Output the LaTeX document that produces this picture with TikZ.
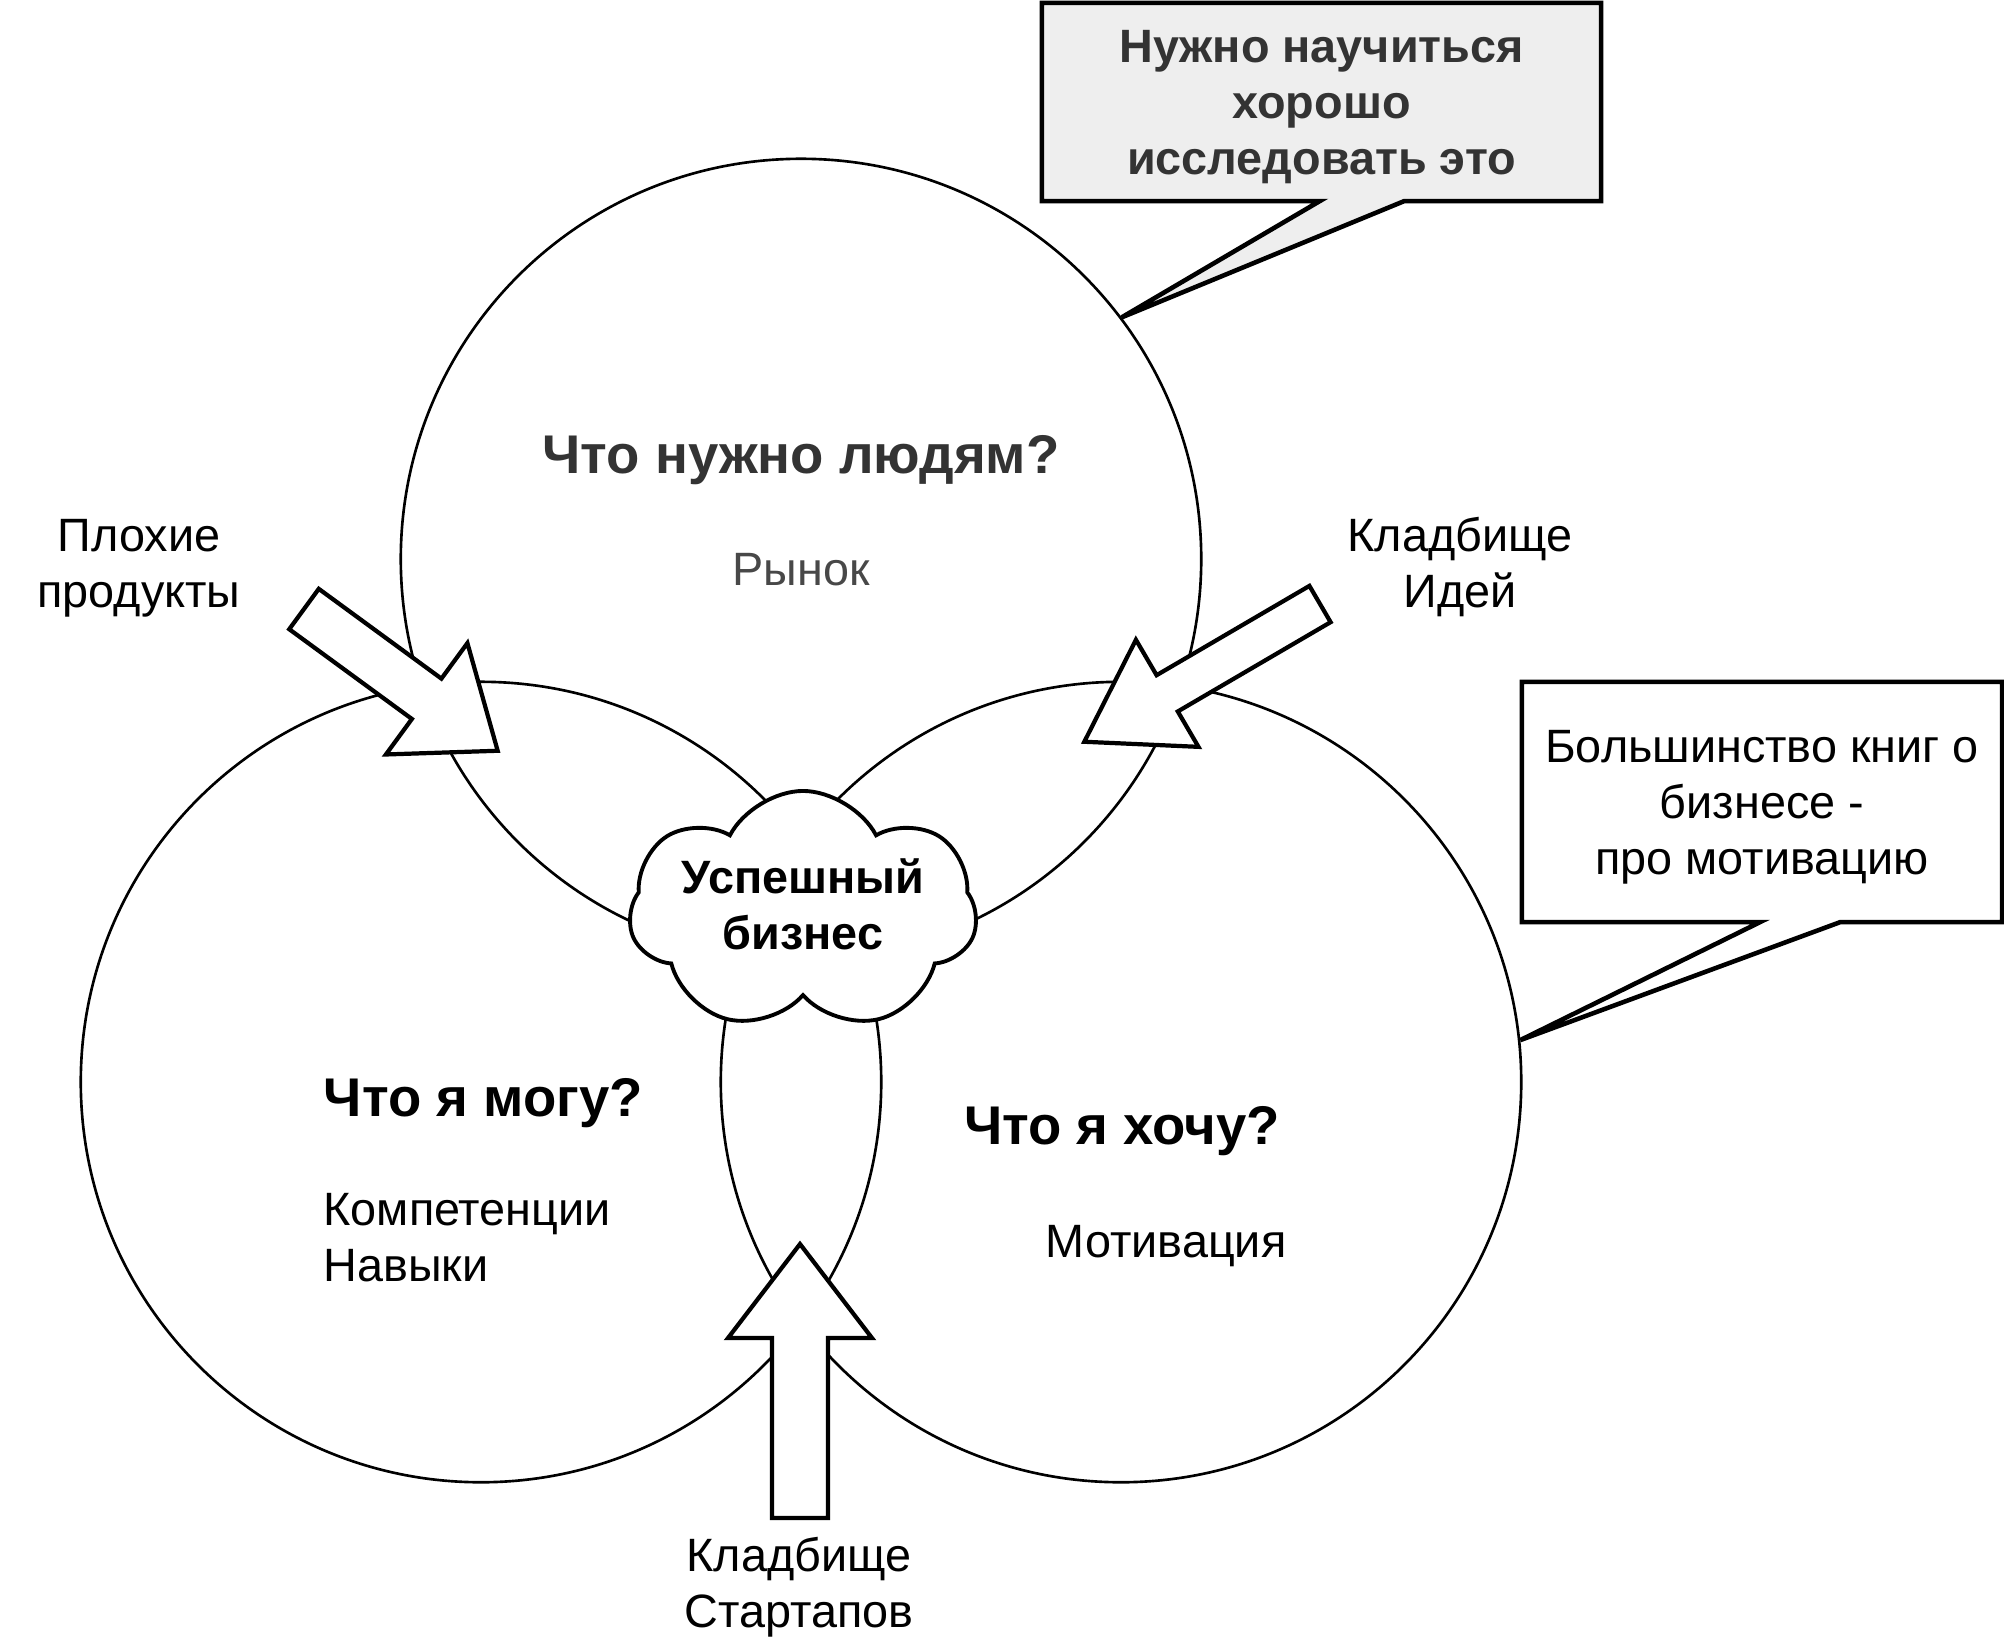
\documentclass[tikz,border=0pt]{standalone}
\usepackage{fontspec}
\setmainfont{Liberation Sans}
\usetikzlibrary{calc, positioning, shapes.symbols, backgrounds}
\definecolor{darktext}{RGB}{51,51,51}
\definecolor{midgrey}{RGB}{72,72,72}
\definecolor{notefill}{RGB}{238,238,238}
\tikzset{
  venn/.style={circle, draw=black, line width=0.75pt, minimum size=8cm, inner sep=0pt},
  lbl/.style={font=\fontsize{13.3pt}{15.9pt}\selectfont, align=center, inner sep=0pt},
  head/.style={font=\fontsize{15.5pt}{18.6pt}\selectfont\bfseries, inner sep=0pt},
  blockarrow/.style={draw=black, fill=white, line width=1.2pt},
  notebox/.style={draw=black, line width=1.3pt},
  note/.style={lbl, outer sep=0pt},
  puff/.style={cloud, cloud puffs=7, cloud puff arc=125, cloud ignores aspect,
               minimum width=2.9cm, minimum height=2.4cm, draw=black, fill=white,
               line width=1.1pt, lbl, font=\fontsize{13.3pt}{15.9pt}\selectfont\bfseries}
}
\begin{document}
\begin{tikzpicture}[x=0.01cm, y=-0.01cm]
  \useasboundingbox (0,0) rectangle (2004,1644);
  \node[venn] (need) at (801,559) {};
  \node[venn] (can)  at (481,1082) {};
  \node[venn] (want) at (1121,1082) {};
  \foreach \x/\y/\a/\len/\w/\h/\k in {304/609/-36.2/240/25/69/88,
                                      1320/604/210.3/273/21/62/96,
                                      800/1518/90/274/28/72/94} {
    \draw[blockarrow, shift={(\x,\y)}, rotate=\a]
      (0,-\w) -- (\len-\k,-\w) -- (\len-\k,-\h) -- (\len,0)
      -- (\len-\k,\h) -- (\len-\k,\w) -- (0,\w) -- cycle;
  }
  \node[puff] (win) at (803,911) {Успешный\\бизнес\rule[-4pt]{0pt}{4pt}};

  \node[note, text=darktext, font=\fontsize{13.3pt}{15.9pt}\selectfont\bfseries,
        minimum width=5.59cm, minimum height=1.98cm] (hint) at (1321.5,102)
        {\rule{0pt}{12pt}Нужно научиться\\хорошо\\исследовать это};
  \node[note, minimum width=4.80cm, minimum height=2.40cm] (books) at (1762,802)
        {\rule{0pt}{12pt}Большинство книг о\\бизнесе -\\про мотивацию};
  \begin{scope}[on background layer]
    \draw[notebox, fill=notefill] (hint.north west) -- (hint.north east) -- (hint.south east)
      -- ($(hint.south west)!0.648!(hint.south east)$) -- (need.37)
      -- ($(hint.south west)!0.497!(hint.south east)$) -- (hint.south west) -- cycle;
    \draw[notebox, fill=white] (books.north west) -- (books.north east) -- (books.south east)
      -- ($(books.south west)!0.663!(books.south east)$) -- (want.6)
      -- ($(books.south west)!0.496!(books.south east)$) -- (books.south west) -- cycle;
  \end{scope}

  \node[head, text=darktext, anchor=base] (needq) at (801,473) {Что нужно людям?};
  \node[lbl, text=midgrey, anchor=base] (market) at (801,585) {Рынок};
  \node[head, anchor=base west] (canq) at (323,1116) {Что я могу?};
  \node[lbl, align=left, anchor=west] (skills) at (323,1238) {Компетенции\\Навыки};
  \node[head, anchor=base] (wantq) at (1122,1144) {Что я хочу?};
  \node[lbl, anchor=base] (motive) at (1166,1257) {Мотивация};
  \node[lbl] (badprod) at (139,568) {Плохие\\продукты};
  \node[lbl] (ideas) at (1460,567) {Кладбище\\Идей};
  \node[lbl] (startups) at (799,1587) {Кладбище\\Стартапов};
\end{tikzpicture}
\end{document}
